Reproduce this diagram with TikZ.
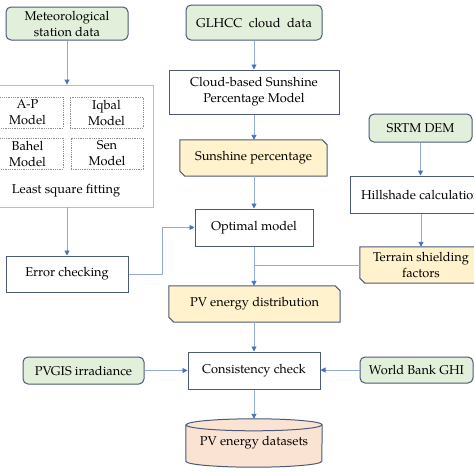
\documentclass[tikz,border=0pt]{standalone}
\usepackage{fontspec}
\setmainfont{TeX Gyre Pagella}
\usetikzlibrary{arrows.meta,backgrounds}
\definecolor{boxline}{HTML}{4A5A78}
\definecolor{greenfill}{HTML}{E2EFDA}
\definecolor{yelfill}{HTML}{FFF2CC}
\definecolor{salfill}{HTML}{FBE3D4}
\definecolor{conn}{HTML}{8FAADC}
\definecolor{tipc}{HTML}{4472C4}
\definecolor{grpline}{HTML}{A9C2DE}
\definecolor{dotline}{HTML}{8C8C8C}
\tikzset{
  every node/.style={font=\fontsize{12.8}{16}\selectfont, align=center, inner sep=0pt},
  plainbox/.style={draw=boxline, line width=1pt, fill=white},
  srcbox/.style={draw=boxline, line width=1pt, fill=greenfill, rounded corners=5pt},
  modbox/.style={draw=dotline, densely dotted, line width=0.8pt},
  grpbox/.style={draw=grpline, line width=0.9pt},
  link/.style={draw=conn, line width=0.9pt},
  arr/.style={link, -{Triangle[length=5pt,width=5pt,color=tipc]}},
}
\newcommand\snipshape[1]{%
  \draw[boxline, line width=1pt, fill=yelfill]
    (#1.north west) -- ([xshift=-5pt]#1.north east) -- ([yshift=-5pt]#1.north east)
    -- (#1.south east) -- ([xshift=5pt]#1.south west) -- ([yshift=5pt]#1.south west) -- cycle;}
\begin{document}
\begin{tikzpicture}[x=1pt,y=-1pt]
\useasboundingbox (0,0) rectangle (474,474);
\clip (0,0) rectangle (474,474);
% left group
\node[grpbox, minimum width=158pt, minimum height=122pt] (grp) at (74,146) {};
\node[modbox, minimum width=71pt, minimum height=31pt] (ap) at (27.5,112.5) {A-P\\Model};
\node[modbox, minimum width=73pt, minimum height=31pt] (iq) at (106.5,112.5) {Iqbal\\Model};
\node[modbox, minimum width=71pt, minimum height=31pt] (bh) at (27.5,153.5) {Bahel\\Model};
\node[modbox, minimum width=72pt, minimum height=31pt] (sen) at (107,153.5) {Sen\\Model};
\node (lsf) at (66,191) {Least square fitting};

\node[srcbox, minimum width=122pt, minimum height=33pt] (met) at (67,23.5) {Meteorological\\station data};
\node[srcbox, minimum width=136pt, minimum height=35pt] (glh) at (254,22.5) {GLHCC\enspace cloud\enspace data};
\node[plainbox, minimum width=170pt, minimum height=44pt] (cld) at (254,92) {Cloud-based Sunshine\\Percentage Model};
\node[minimum width=147pt, minimum height=36pt] (sun) at (253.5,158) {Sunshine percentage};
\node[plainbox, minimum width=118pt, minimum height=37pt] (opt) at (254,227.5) {Optimal model};
\node[srcbox, minimum width=103pt, minimum height=28pt] (srtm) at (420.5,128) {SRTM DEM};
\node[plainbox, minimum width=142pt, minimum height=37pt] (hill) at (421,194.5) {Hillshade calculation};
\node[minimum width=122pt, minimum height=36pt] (terr) at (421,265) {Terrain shielding\\factors};
\node[plainbox, minimum width=122pt, minimum height=36pt] (err) at (67,274) {Error checking};
\node[minimum width=171pt, minimum height=36pt] (pvd) at (254.5,304) {PV energy distribution};
\node[plainbox, minimum width=132pt, minimum height=37pt] (cons) at (254,370.5) {Consistency check};
\node[srcbox, minimum width=121pt, minimum height=27pt] (pvg) at (83.5,370.5) {PVGIS irradiance};
\node[srcbox, minimum width=113pt, minimum height=26pt] (wb) at (416.5,370) {World Bank GHI};
\node[minimum width=136pt, minimum height=48pt] (ds) at (254,443) {\raisebox{-8pt}{PV energy datasets}};

\begin{scope}[on background layer]
  \snipshape{sun}
  \snipshape{terr}
  \snipshape{pvd}
  \draw[boxline, line width=1pt, fill=salfill]
    ([yshift=-6pt]ds.north west) -- ([yshift=6pt]ds.south west)
    arc[start angle=180, end angle=0, x radius=68, y radius=6]
    -- ([yshift=-6pt]ds.north east)
    arc[start angle=0, end angle=-180, x radius=68, y radius=6] -- cycle;
\end{scope}
\draw[boxline, line width=1pt] ([yshift=-6pt]ds.north west)
    arc[start angle=180, end angle=0, x radius=68, y radius=6];

% connectors
\draw[arr] (met.south) -- (met.south |- grp.north);
\draw[arr] (err.north |- grp.south) -- (err.north);
\draw[arr] (err.east) -- ++(34,0) |- (opt.west);
\draw[arr] (glh.south) -- (cld.north);
\draw[arr] (cld.south) -- (sun.north -| cld.south);
\draw[arr] (sun.south -| opt.north) -- (opt.north);
\draw[arr] (srtm.south) -- (srtm.south |- hill.north);
\draw[arr] (hill.south) -- (hill.south |- terr.north);
\draw[link] (terr.west) -- (terr.west -| opt.south);
\draw[arr] (opt.south) -- (opt.south |- pvd.north);
\draw[arr] (pvd.south -| cons.north) -- (cons.north);
\draw[arr] (pvg.east) -- (pvg.east -| cons.west);
\draw[arr] (wb.west) -- (wb.west -| cons.east);
\draw[arr] (cons.south) -- (ds.north);
\end{tikzpicture}
\end{document}
